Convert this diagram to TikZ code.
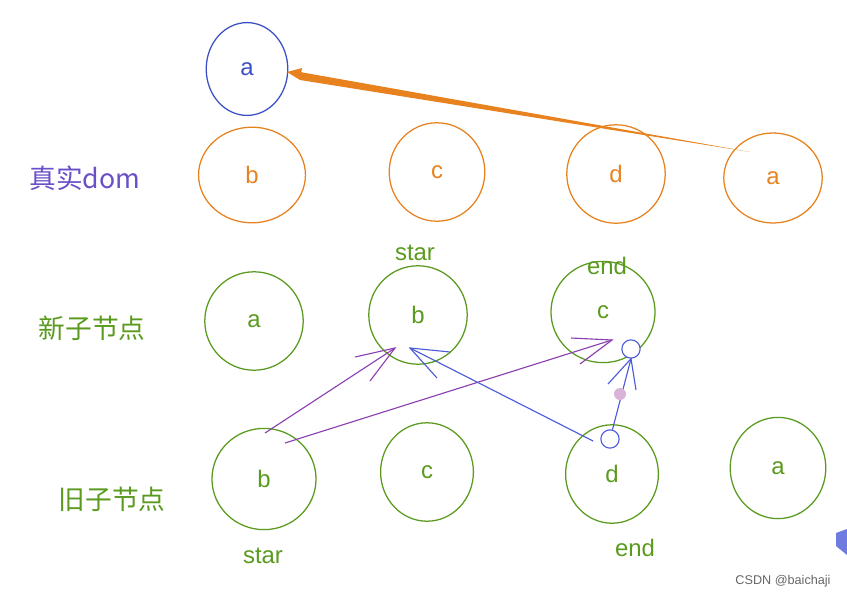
\documentclass[tikz,border=0pt]{standalone}
\usepackage{fontspec}
\usetikzlibrary{shapes.geometric}
\setmainfont{Liberation Sans}
\newfontfamily\cjk{Noto Sans CJK SC}
\begin{document}
\begin{tikzpicture}[x=0.025cm,y=-0.025cm]
\definecolor{gr}{HTML}{5A9A1E}\definecolor{og}{HTML}{E8821E}\definecolor{bl}{HTML}{3B4FC4}
\definecolor{pu}{HTML}{8B3FB0}\definecolor{bl2}{HTML}{4A5AD8}\definecolor{lb}{HTML}{6A4FC8}
\tikzset{el/.style={draw,ellipse,minimum width=2*#1,inner sep=0pt,font=\fontsize{17}{17}\selectfont},
 o/.style={el=36,draw=og,text=og,line width=0.9pt,minimum height=68},
 g/.style={el=35,draw=gr,text=gr,line width=0.9pt,minimum height=70},
 lab/.style={text=gr,font=\fontsize{17}{17}\selectfont},
 cj/.style={font=\cjk\fontsize{19}{19}\selectfont},
 pa/.style={pu,line width=0.8pt}, ba/.style={bl2,line width=0.8pt}}
\useasboundingbox (0,0) rectangle (847,598);
\node[el=29,draw=bl,text=bl,line width=0.9pt,minimum height=66] (ta) at (247,69) {a};
\node[o,minimum width=76] (ob) at (252,175) {b};
\node[o,minimum width=68,minimum height=70] (oc) at (437,172) {c};
\node[o,minimum width=70,minimum height=70] (od) at (616,174) {d};
\node[o,minimum width=70,minimum height=64] (oa) at (773,178) {a};
\node[g] (na) at (254,321) {a};
\node[g] (nb) at (418,315) {b};
\node[g,minimum width=74,minimum height=72] (nc) at (603,312) {c};
\node[g,minimum width=74,minimum height=72] (ub) at (264,479) {b};
\node[g,minimum width=66] (uc) at (427,472) {c};
\node[g,minimum width=66] (ud) at (612,474) {d};
\node[g,minimum width=68,minimum height=72] (ua) at (778,468) {a};
\node[cj,text=lb] (l1) at (85,178) {真实dom};
\node[cj,text=gr] (l2) at (92,328) {新子节点};
\node[cj,text=gr] (l3) at (112,499) {旧子节点};
\node[lab] (s1) at (415,253) {star};
\node[lab] (e1) at (607,266) {end};
\node[lab] (s2) at (263,556) {star};
\node[lab] (e2) at (635,548) {end};
\node[text=gray!80!black,font=\fontsize{9}{9}\selectfont] (cs) at (783,581) {CSDN @baichaji};
\coordinate (oh) at (287,72);
\fill[og] (750,152) -- (300,72) -- (300,80) -- cycle;
\fill[og] (oh) -- (302,68) -- (300,80) -- cycle;
\coordinate (p1) at (395,348); \coordinate (p2) at (612,340);
\draw[pa] (265,433) -- (p1); \draw[pa] (355,357) -- (p1) -- (370,381);
\draw[pa] (285,443) -- (p2); \draw[pa] (571,338) -- (p2) -- (580,364);
\coordinate (b1) at (410,348);
\draw[ba] (593,441) -- (b1); \draw[ba] (450,352) -- (b1) -- (437,378);
\node[draw=bl2,circle,minimum size=13,inner sep=0pt,fill=white,line width=0.8pt] (c1) at (631,349) {};
\node[draw=bl2,circle,minimum size=13,inner sep=0pt,fill=white,line width=0.8pt] (c2) at (610,439) {};
\draw[ba] (c2) -- (c1.south); \draw[ba] (608,384) -- (c1.south) -- (636,390);
\fill[violet!30] (620,394) circle (6);
\fill[bl2!80] (836,533) -- (847,529) -- (847,555) -- (836,546) -- cycle;
\end{tikzpicture}
\end{document}
